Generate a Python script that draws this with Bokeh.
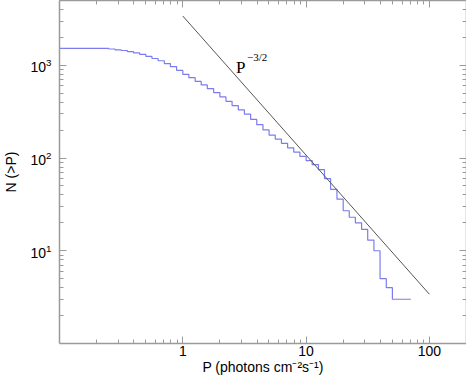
from bokeh.plotting import figure
from bokeh.models import (FixedTicker, LogAxis, Label, LogTickFormatter, Range1d,
                          ColumnDataSource, PrintfTickFormatter)
from bokeh.embed import file_html
from bokeh.resources import INLINE

# Bin edges of peak flux P (photons cm^-2 s^-1)
bin_p = [0.1, 0.112, 0.126, 0.141, 0.158, 0.178, 0.2, 0.224, 0.251, 0.282,
         0.316, 0.355, 0.398, 0.447, 0.501, 0.562, 0.631, 0.708, 0.794, 0.891,
         1.0, 1.12, 1.26, 1.41, 1.58, 1.78, 2.0, 2.24, 2.51, 2.82,
         3.16, 3.55, 3.98, 4.47, 5.01, 5.62, 6.31, 7.08, 7.94, 8.91,
         10.0, 11.2, 12.6, 14.1, 15.8, 17.8, 20.0, 22.4, 25.1, 28.2,
         31.6, 35.5, 39.8, 44.7, 50.1, 56.2, 63.1, 70.8]
# Cumulative counts N(>P)
counts = [1520, 1520, 1520, 1520, 1520, 1520, 1520, 1520, 1500, 1470,
          1445, 1405, 1365, 1315, 1250, 1185, 1120, 1045, 968, 883,
          800, 736, 671, 614, 560, 507, 456, 409, 368, 330,
          297, 261, 229, 201, 177, 160, 144, 129, 116, 104,
          94, 85, 75, 60, 46, 36, 27, 23, 20, 17,
          13, 10, 5, 4, 3, 3, 3, 3]

# Reference power law P^-3/2
law_p = [1.0, 100.0]
law_n = [3400.0, 3.4]

x_major = [1, 10, 100]
x_minor = [0.2, 0.3, 0.4, 0.5, 0.6, 0.7, 0.8, 0.9,
           2, 3, 4, 5, 6, 7, 8, 9, 20, 30, 40, 50, 60, 70, 80, 90, 200]
y_major = [10, 100, 1000]
y_minor = [2, 3, 4, 5, 6, 7, 8, 9, 20, 30, 40, 50, 60, 70, 80, 90,
           200, 300, 400, 500, 600, 700, 800, 900, 2000, 3000, 4000, 5000]

AX = "#9a9a9a"
FONT = "Liberation Sans"

p = figure(width=466, height=377, x_axis_type="log", y_axis_type="log",
           x_range=Range1d(0.1, 200), y_range=Range1d(1, 5000),
           output_backend="svg", toolbar_location=None,
           min_border_left=0, min_border_right=0, min_border_top=0, min_border_bottom=0)
p.grid.visible = False
p.outline_line_color = None
p.background_fill_color = "white"
p.border_fill_color = "white"

src = ColumnDataSource(dict(p=bin_p, n=counts))
p.step("p", "n", source=src, mode="after", line_color="#7c7cf0", line_width=1.2)
p.line(law_p, law_n, line_color="#555555", line_width=1)

xt = FixedTicker(ticks=x_major, minor_ticks=x_minor)
yt = FixedTicker(ticks=y_major, minor_ticks=y_minor)

def style(ax, labels=True):
    ax.axis_line_color = AX
    ax.axis_line_width = 1.5
    ax.major_tick_line_color = AX
    ax.minor_tick_line_color = AX
    ax.major_tick_in = 7
    ax.major_tick_out = 0
    ax.minor_tick_in = 4
    ax.minor_tick_out = 0
    ax.major_label_text_font = FONT
    ax.major_label_text_font_size = "14px" if labels else "1px"
    ax.major_label_text_color = "black"
    if not labels:
        ax.major_label_text_alpha = 0
    ax.axis_label_text_font = FONT
    ax.axis_label_text_font_size = "14px"
    ax.axis_label_text_font_style = "normal"
    ax.axis_label_text_color = "black"

p.xaxis.ticker = xt
p.yaxis.ticker = yt
p.xaxis.formatter = PrintfTickFormatter(format="%d")
p.yaxis.formatter = LogTickFormatter()
p.xaxis.axis_label = "P (photons cm\u207b\u00b2s\u207b\u00b9)"
p.yaxis.axis_label = "N (>P)"
style(p.xaxis[0])
style(p.yaxis[0])
p.xaxis.major_label_standoff = 2
p.yaxis.major_label_standoff = 8
p.xaxis.axis_label_standoff = 0
p.yaxis.axis_label_standoff = 8

top = LogAxis(ticker=xt, major_label_standoff=0, axis_label_standoff=0)
right = LogAxis(ticker=yt, major_label_standoff=0, axis_label_standoff=0)
style(top, labels=False)
style(right, labels=False)
p.add_layout(top, "above")
p.add_layout(right, "right")

p.add_layout(Label(x=2.7, y=950, text="P", text_font="Liberation Serif",
                   text_font_size="17px", text_color="black", text_baseline="alphabetic"))
p.add_layout(Label(x=2.7, y=950, x_offset=11, y_offset=10, text="\u22123/2",
                   text_font="Liberation Serif", text_font_size="11px",
                   text_color="black", text_baseline="alphabetic"))

open("out.html", "w").write(file_html(p, INLINE))
